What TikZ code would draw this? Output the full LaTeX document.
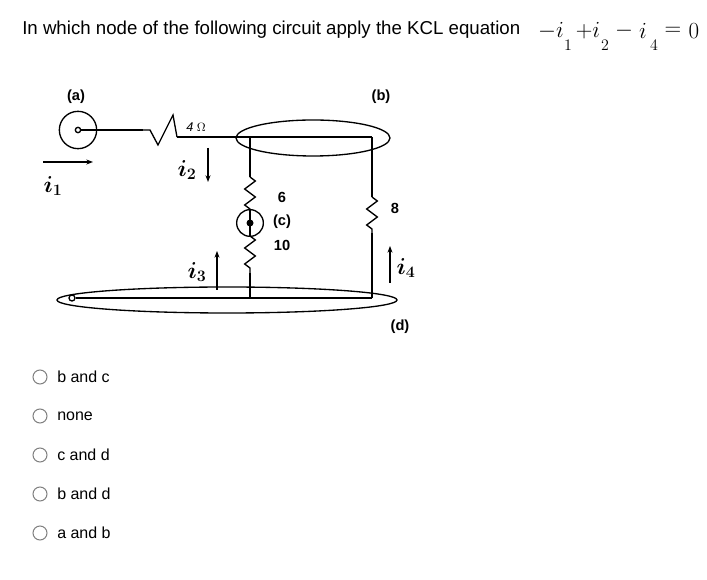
\documentclass[tikz,border=0pt]{standalone}
\usepackage{fontspec}
\usepackage{amsmath,bm}
\setmainfont{Liberation Sans}
\usetikzlibrary{decorations.pathmorphing,arrows.meta}
\begin{document}
\begin{tikzpicture}[x=0.75pt,y=-0.75pt,
  w/.style={line width=1pt},
  res/.style={w,decorate,decoration={zigzag,segment length=12,amplitude=4}},
  lab/.style={font=\bfseries\fontsize{11}{12}\selectfont,inner sep=0},
  cur/.style={font=\fontsize{17}{18}\selectfont,inner sep=0},
  arr/.style={w,-{Stealth[length=5pt]}},
  eqm/.style={inner sep=0,font=\fontsize{18}{20}\selectfont},
  eqs/.style={inner sep=0,font=\fontsize{13}{14}\selectfont},
  opt/.style={draw=gray,line width=0.8pt,circle,minimum size=10.5pt,inner sep=0},
  otxt/.style={anchor=west,font=\fontsize{12}{13}\selectfont,inner sep=0}]
\useasboundingbox (0,0) rectangle (707,580);
\node[anchor=west,inner sep=0,font=\fontsize{14}{16}\selectfont] (t) at (22,30) {In which node of the following circuit apply the KCL equation};
\node[eqm] (e1) at (551,31) {$-i$};
\node[eqs] (s1) at (568,45) {$1$};
\node[eqm] (e2) at (588,31) {$+i$};
\node[eqs] (s2) at (605,45) {$2$};
\node[eqm] (e3) at (624,31) {$-$};
\node[eqm] (e4) at (643,31) {$i$};
\node[eqs] (s4) at (654,45) {$4$};
\node[eqm] (e5) at (673,31) {$=$};
\node[eqm] (e6) at (694,31) {$0$};
% node a
\node[draw,circle,w,minimum size=28pt,inner sep=0] (a) at (78,130) {};
\node[draw,circle,w,minimum size=4pt,inner sep=0] (a0) at (78,130) {};
\node[lab] (la) at (76,97) {(a)};
\coordinate (r1s) at (143,130);
\coordinate (r1e) at (177,137);
\draw[w] (a0) -- (r1s);
\draw[w] (r1s) -- (150,130) -- (158,145) -- (173,115) -- (177,137);
\node[inner sep=0,font=\itshape\fontsize{9.5}{10}\selectfont] (l4) at (196,127) {4 $\Omega$};
% top wire
\coordinate (tj) at (250,137);
\coordinate (tr) at (372,137);
\draw[w] (r1e) -- (tj) -- (tr);
\draw[w] (313,138) ellipse (77 and 18);
\node[lab] (lb) at (381,97) {(b)};
% middle branch
\coordinate (m1) at (250,177);
\coordinate (m2) at (250,210);
\node[draw,circle,w,minimum size=20pt,inner sep=0] (c) at (250,223) {};
\fill (250,223) circle (3.5);
\coordinate (m3) at (250,236);
\coordinate (m4) at (250,273);
\coordinate (bj) at (250,298);
\draw[w] (tj) -- (m1);
\draw[res] (m1) -- (m2);
\draw[w] (m2) -- (250,223) -- (m3);
\draw[res] (m3) -- (m4);
\draw[w] (m4) -- (bj);
\node[lab] (l6) at (282,197) {6};
\node[lab] (lc) at (282,222) {(c)};
\node[lab] (l10) at (282,245) {10};
% right branch
\coordinate (r1) at (372,197);
\coordinate (r2) at (372,233);
\coordinate (br) at (372,298);
\draw[w] (tr) -- (r1);
\draw[res] (r1) -- (r2);
\draw[w] (r2) -- (br);
\node[lab] (l8) at (395,208) {8};
% bottom
\node[draw,circle,w,minimum size=4.5pt,inner sep=0] (d0) at (72,298) {};
\draw[w] (d0) -- (bj) -- (br);
\draw[w] (227,300) ellipse (170 and 13);
\node[lab] (ld) at (400,327) {(d)};
% currents
\coordinate (i1s) at (43,162); \coordinate (i1e) at (93,162);
\draw[arr] (i1s) -- (i1e);
\node[cur] (li1) at (53,186) {$\bm{i}_{\bm 1}$};
\coordinate (i2s) at (208,148); \coordinate (i2e) at (208,182);
\draw[arr] (i2s) -- (i2e);
\node[cur] (li2) at (187,170) {$\bm{i}_{\bm 2}$};
\coordinate (i3s) at (217,290); \coordinate (i3e) at (217,251);
\draw[arr] (i3s) -- (i3e);
\node[cur] (li3) at (197,272) {$\bm{i}_{\bm 3}$};
\coordinate (i4s) at (390,283); \coordinate (i4e) at (390,246);
\draw[arr] (i4s) -- (i4e);
\node[cur] (li4) at (406,268) {$\bm{i}_{\bm 4}$};
% options
\foreach \y/\t [count=\k] in {377/b and c,416/none,455/c and d,494/b and d,533/a and b}{
  \node[opt] (o\k) at (40,\y) {};
  \node[otxt] (ot\k) at (57,\y) {\t};
}
\end{tikzpicture}
\end{document}
